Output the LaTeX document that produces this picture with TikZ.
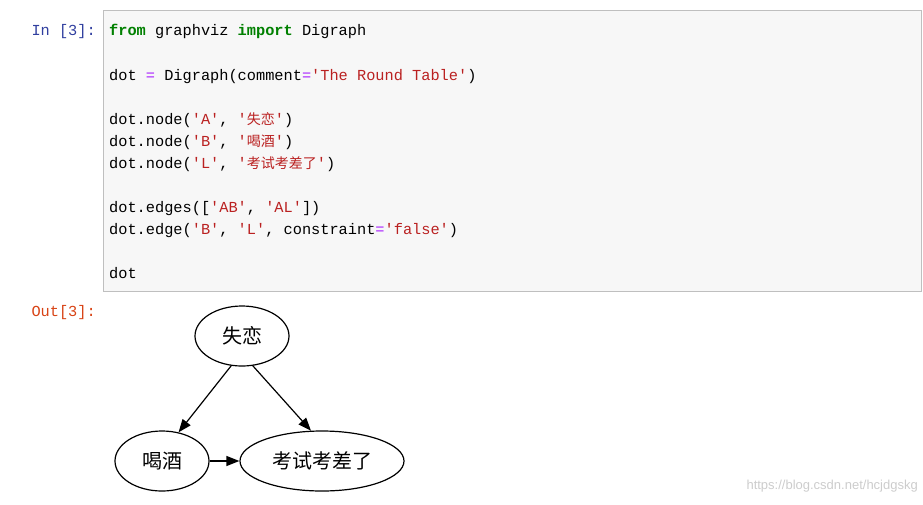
\documentclass[tikz,border=0pt]{standalone}
\usepackage{fontspec}
\setmonofont{Liberation Mono}
\newfontfamily\cjk{Noto Sans CJK SC}
\usetikzlibrary{shapes.geometric,arrows.meta}
\definecolor{kw}{HTML}{008000}
\definecolor{st}{HTML}{BA2121}
\definecolor{op}{HTML}{AA22FF}
\definecolor{inc}{HTML}{303F9F}
\definecolor{outc}{HTML}{D84315}
\newcommand{\Str}[1]{\textcolor{st}{#1}}
\newcommand{\Cj}[1]{{\cjk\fontsize{14}{14}\selectfont #1}}
\tikzset{
 code/.style={anchor=base west,inner sep=0,font=\ttfamily\fontsize{15.3}{15.3}\selectfont},
 gn/.style={ellipse,draw,line width=1.2pt,inner sep=0,font=\cjk\fontsize{20}{20}\selectfont},
 ar/.style={line width=1.2pt,-{Triangle[length=13pt,width=10pt]}}
}
\begin{document}
\begin{tikzpicture}[x=1pt,y=-1pt]
\useasboundingbox (0,0) rectangle (923,504);
\draw[fill=black!3,draw=black!25] (103,10) rectangle (921,291);
\node[code,text=inc,anchor=base east] (in) at (96,35) {In [3]:};
\node[code,text=outc,anchor=base east] (out) at (96,316) {Out[3]:};
\node[code] (l1) at (109,35) {\textcolor{kw}{\bfseries from} graphviz \textcolor{kw}{\bfseries import} Digraph};
\node[code] (l2) at (109,80) {dot \textcolor{op}{=} Digraph(comment\textcolor{op}{=}\Str{'The Round Table'})};
\node[code] (l3) at (109,124) {dot.node(\Str{'A'}, \Str{'\Cj{失恋}'})};
\node[code] (l4) at (109,146) {dot.node(\Str{'B'}, \Str{'\Cj{喝酒}'})};
\node[code] (l5) at (109,168) {dot.node(\Str{'L'}, \Str{'\Cj{考试考差了}'})};
\node[code] (l6) at (109,212) {dot.edges([\Str{'AB'}, \Str{'AL'}])};
\node[code] (l7) at (109,234) {dot.edge(\Str{'B'}, \Str{'L'}, constraint\textcolor{op}{=}\Str{'false'})};
\node[code] (l8) at (109,278) {dot};
\node[gn,minimum width=94,minimum height=60] (A) at (242,336) {失恋};
\node[gn,minimum width=94,minimum height=60] (B) at (162,461) {喝酒};
\node[gn,minimum width=164,minimum height=60] (L) at (322,461) {考试考差了};
\draw[ar] (A.250) -- (B.60);
\draw[ar] (A.290) -- (L.110);
\draw[ar] (B) -- (L);
\node[anchor=east,inner sep=0,text=black!20,font=\fontspec{Liberation Sans}\fontsize{13}{13}\selectfont] (wm) at (918,486) {https://blog.csdn.net/hcjdgskg};
\end{tikzpicture}
\end{document}
